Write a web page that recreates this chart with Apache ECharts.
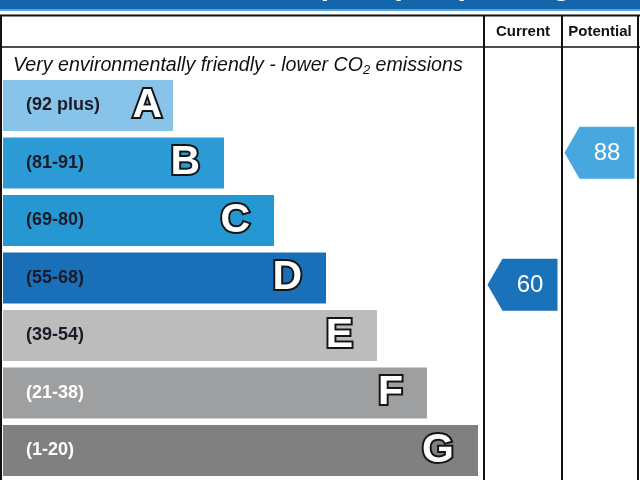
<!DOCTYPE html>
<html>
<head>
<meta charset="utf-8">
<title>Environmental Impact (CO2) Rating</title>
<script src="https://cdn.jsdelivr.net/npm/echarts@6/dist/echarts.min.js"></script>
<style>
  html, body { margin: 0; padding: 0; background: #fff; }
  #chart { width: 640px; height: 480px; }
</style>
</head>
<body>
<div id="chart"></div>
<script>
// rating bands, top (best) to bottom (worst)
const bands = ['A', 'B', 'C', 'D', 'E', 'F', 'G']
const ranges = ['(92 plus)', '(81-91)', '(69-80)', '(55-68)', '(39-54)', '(21-38)', '(1-20)']
const barLengths = [170, 221, 271, 323, 374, 424, 475] // bar length in px units
const bandColors = ['#88c4ea', '#2b9ad5', '#2598d3', '#1a70b8', '#bcbcbc', '#9e9fa1', '#808080']
const rangeTextColors = ['#1b1b28', '#1b1b28', '#1b1b28', '#1b1b28', '#1b1b28', '#ffffff', '#ffffff']

// ratings shown in the right-hand columns
const columns = ['Current', 'Potential']
const ratings = [60, 88]
const ratingColors = ['#1a72ba', '#48a7de']

const FONT = 'Arial, "Liberation Sans", sans-serif'

const chart = echarts.init(document.getElementById('chart'), null, { renderer: 'canvas' })

function renderArrow(params, api) {
  const p = api.coord([api.value(0), api.value(1)])
  const w = 70 // arrow width
  const h = 52 // arrow height
  const tip = 15 // depth of the point
  const x0 = p[0] - w / 2
  const x1 = p[0] + w / 2
  const y0 = p[1] - h / 2
  const y1 = p[1] + h / 2
  return {
    type: 'group',
    children: [
      {
        type: 'polygon',
        shape: { points: [[x0, p[1]], [x0 + tip, y0], [x1, y0], [x1, y1], [x0 + tip, y1]] },
        style: { fill: ratingColors[params.dataIndex] }
      },
      {
        type: 'text',
        style: {
          text: String(api.value(1)),
          x: p[0] + tip / 2,
          y: p[1] + 1,
          fill: '#fff',
          font: '24px ' + FONT,
          align: 'center',
          verticalAlign: 'middle'
        }
      }
    ]
  }
}

const option = {
  animation: false,
  backgroundColor: '#fff',
  graphic: [
    // title band, mostly cut off at the top
    { type: 'rect', shape: { x: 0, y: 0, width: 640, height: 10 }, style: { fill: '#1466ab' }, z: 0 },
    {
      type: 'text', x: 320, y: 2, z: 1,
      style: { text: 'Environmental Impact (CO\u2082) Rating', fill: '#fff', font: 'bold 30px ' + FONT, align: 'center', verticalAlign: 'bottom' }
    },
    { type: 'rect', shape: { x: 0, y: 9, width: 640, height: 2 }, style: { fill: '#5aa5dc' }, z: 0 },
    // table frame
    { type: 'line', shape: { x1: 0, y1: 15.5, x2: 640, y2: 15.5 }, style: { stroke: '#111', lineWidth: 2 } },
    { type: 'line', shape: { x1: 0, y1: 47, x2: 640, y2: 47 }, style: { stroke: '#111', lineWidth: 1.5 } },
    { type: 'line', shape: { x1: 1, y1: 15, x2: 1, y2: 480 }, style: { stroke: '#111', lineWidth: 2 } },
    { type: 'line', shape: { x1: 484, y1: 15, x2: 484, y2: 480 }, style: { stroke: '#111', lineWidth: 2 } },
    { type: 'line', shape: { x1: 562, y1: 15, x2: 562, y2: 480 }, style: { stroke: '#111', lineWidth: 2 } },
    { type: 'line', shape: { x1: 638, y1: 15, x2: 638, y2: 480 }, style: { stroke: '#111', lineWidth: 2 } },
    // column headers
    {
      type: 'text', x: 523, y: 32,
      style: { text: columns[0], fill: '#111', font: 'bold 15px ' + FONT, align: 'center', verticalAlign: 'middle' }
    },
    {
      type: 'text', x: 600, y: 32,
      style: { text: columns[1], fill: '#111', font: 'bold 15px ' + FONT, align: 'center', verticalAlign: 'middle' }
    },
    // top caption
    {
      type: 'text', x: 13, y: 66,
      style: {
        text: '{t|Very environmentally friendly - lower CO}{s|2}{t| emissions}',
        verticalAlign: 'middle',
        rich: {
          t: { fill: '#111', font: 'italic 19.6px ' + FONT },
          s: { fill: '#111', font: 'italic 13px ' + FONT, padding: [9, 0, 0, 0] }
        }
      }
    }
  ],
  grid: [
    { left: 3, top: 76.75, width: 480, height: 402.5, outerBoundsMode: 'none' },
    { left: 484, top: 96, width: 154, height: 472, outerBoundsMode: 'none' }
  ],
  xAxis: [
    { type: 'value', gridIndex: 0, min: 0, max: 480, show: false },
    { type: 'category', gridIndex: 1, data: columns, show: false }
  ],
  yAxis: [
    { type: 'category', gridIndex: 0, data: bands, inverse: true, show: false },
    { type: 'value', gridIndex: 1, min: 0, max: 100, show: false }
  ],
  series: [
    {
      type: 'bar',
      xAxisIndex: 0,
      yAxisIndex: 0,
      barWidth: 51,
      data: barLengths.map((v, i) => ({
        value: v,
        itemStyle: { color: bandColors[i] },
        label: { color: rangeTextColors[i] }
      })),
      label: {
        show: true,
        position: 'insideLeft',
        distance: 23,
        formatter: (p) => ranges[p.dataIndex],
        fontFamily: FONT,
        fontWeight: 'bold',
        fontSize: 18
      }
    },
    {
      type: 'bar',
      xAxisIndex: 0,
      yAxisIndex: 0,
      barWidth: 51,
      barGap: '-100%',
      itemStyle: { color: 'transparent' },
      data: barLengths.map((v, i) => ({
        value: v,
        label: { distance: i === 0 ? 11 : 24 }
      })),
      label: {
        show: true,
        position: 'insideRight',
        formatter: (p) => bands[p.dataIndex],
        fontFamily: FONT,
        fontWeight: 'bold',
        fontSize: 41,
        color: '#fff',
        textBorderColor: '#151515',
        textBorderWidth: 4
      }
    },
    {
      type: 'custom',
      xAxisIndex: 1,
      yAxisIndex: 1,
      renderItem: renderArrow,
      data: ratings.map((v, i) => [i, v]),
      clip: false
    }
  ]
}

chart.setOption(option)
</script>
</body>
</html>
